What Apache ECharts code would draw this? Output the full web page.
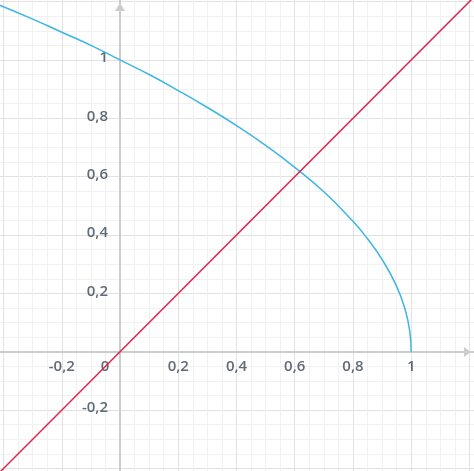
<!DOCTYPE html>
<html><head><meta charset="utf-8">
<script src="https://cdn.jsdelivr.net/npm/echarts@6/dist/echarts.min.js"></script>
<style>html,body{margin:0;padding:0;background:#fff}#c{width:474px;height:471px}</style>
</head><body><div id="c"></div>
<script>
const curveX = [-0.42,-0.3,-0.2,-0.1,0,0.1,0.2,0.3,0.4,0.5,0.6,0.7,0.8,0.85,0.9,0.95,0.98,0.995,1];
const curveY = [1.19,1.14,1.095,1.05,1,0.95,0.895,0.837,0.775,0.707,0.632,0.548,0.447,0.387,0.316,0.224,0.141,0.07,0];
const lineX = [-0.42,1.22];
const lineY = [-0.42,1.22];
const xTickLabels = [-0.2,0,0.2,0.4,0.6,0.8,1];
const yTickLabels = [-0.2,0.2,0.4,0.6,0.8,1];
const fmt = v => String(v).replace('.', ',');
const gridColors = ['#f1f1f1','#e2e2e2','#f1f1f1','#f1f1f1'];
const lbl = {color:'#3a4556',fontSize:15,fontWeight:600,fontFamily:'Open Sans'};
const chart = echarts.init(document.getElementById('c'));
chart.setOption({
  animation:false,
  grid:{left:-11,right:-10,top:-13,bottom:-12,outerBoundsMode:'none',containLabel:false},
  xAxis:{type:'value',min:-0.45,max:1.25,interval:0.05,
    axisLine:{onZero:true,lineStyle:{color:'#cccccc',width:2}},
    axisTick:{show:false},axisLabel:{show:false},
    splitLine:{lineStyle:{color:gridColors,width:1}}},
  yAxis:{type:'value',min:-0.45,max:1.25,interval:0.05,
    axisLine:{onZero:true,lineStyle:{color:'#cccccc',width:2}},
    axisTick:{show:false},axisLabel:{show:false},
    splitLine:{lineStyle:{color:gridColors,width:1}}},
  series:[
    {type:'line',data:curveX.map((x,i)=>[x,curveY[i]]),smooth:true,showSymbol:false,
     lineStyle:{color:'#3cb6e3',width:1.5}},
    {type:'line',data:lineX.map((x,i)=>[x,lineY[i]]),showSymbol:false,
     lineStyle:{color:'#d9244f',width:1.5}},
    {type:'scatter',symbolSize:0,silent:true,
     data:xTickLabels.map(v=>({value:[v,0],label:{offset:[v===0?-15:0,0]}})),
     label:Object.assign({show:true,position:'bottom',distance:8,formatter:p=>fmt(p.value[0])},lbl)},
    {type:'scatter',symbolSize:0,silent:true,
     data:yTickLabels.map(v=>[0,v]),
     label:Object.assign({show:true,position:'left',distance:12,offset:[0,-2],formatter:p=>fmt(p.value[1])},lbl)}
  ],
  graphic:[
    {type:'polygon',shape:{points:[[464,347],[471,352],[464,357]]},style:{fill:'#cccccc'}},
    {type:'polygon',shape:{points:[[115,11],[120,3],[125,11]]},style:{fill:'#cccccc'}}
  ]
});
</script></body></html>
